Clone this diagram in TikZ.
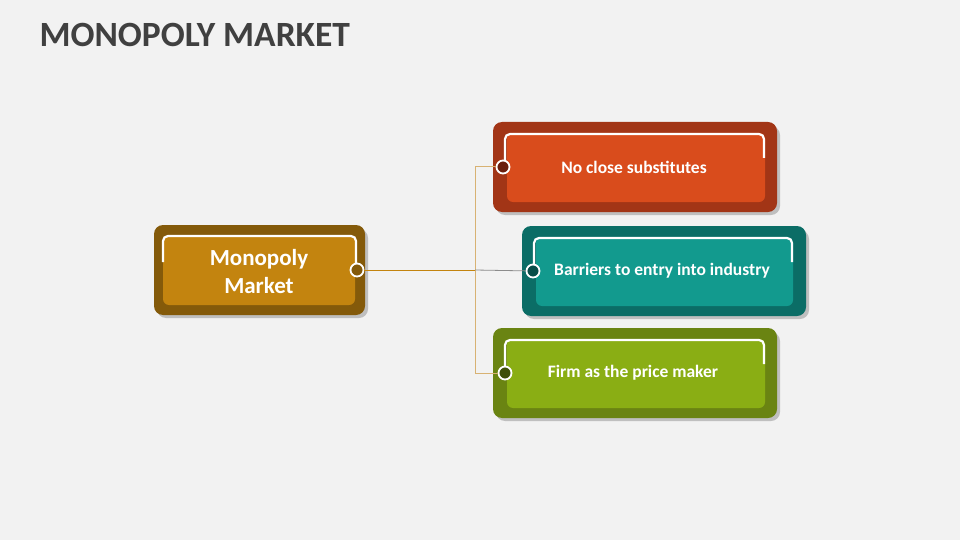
\documentclass[tikz,border=0pt]{standalone}
\usepackage{fontspec}
\setmainfont{Carlito}
\begin{document}
\begin{tikzpicture}[x=1pt,y=-1pt,
  outerbox/.style={rounded corners=9pt},
  innerbox/.style={rounded corners=6pt},
  wline/.style={white,line width=2.2pt,rounded corners=5pt},
  dot/.style={circle,draw=white,line width=1.8pt,minimum size=13pt,inner sep=0pt},
  conn/.style={line width=1pt,draw=tan1},
  lbl/.style={text=white,font=\bfseries,align=center}]
\definecolor{bg}{HTML}{F2F2F2}
\definecolor{tan1}{HTML}{D8B273}
\definecolor{gold}{HTML}{C3840F}
\definecolor{goldd}{HTML}{845A0A}
\definecolor{red1}{HTML}{D94C1C}
\definecolor{red2}{HTML}{A23516}
\definecolor{red3}{HTML}{6B1F0E}
\definecolor{tea1}{HTML}{129A8E}
\definecolor{tea2}{HTML}{0B6D66}
\definecolor{tea3}{HTML}{084E49}
\definecolor{gr1}{HTML}{8AAE14}
\definecolor{gr2}{HTML}{6A8412}
\definecolor{gr3}{HTML}{3F500A}
\fill[bg] (0,0) rectangle (960,540);
\useasboundingbox (0,0) rectangle (960,540);
\node[anchor=west,font=\bfseries\fontsize{35.5}{40}\selectfont,text=black!75] (title) at (36,35) {MONOPOLY MARKET};
% left box
\fill[black!25,outerbox] (157,229) rectangle (368,318);
\fill[goldd,outerbox] (154,225) rectangle (365,315);
\fill[gold,innerbox] (163,235) rectangle (355,305);
\draw[wline] (163,262) -- (163,236) -- (356,236) -- (356,264);
\node[dot,fill=goldd] (m) at (357,270) {};
\node[lbl,font=\bfseries\fontsize{23}{28}\selectfont] (mt) at (259,272) {Monopoly\\Market};
% box 1
\fill[black!25,outerbox] (496,126) rectangle (780,215);
\fill[red2,outerbox] (493,122) rectangle (777,212);
\fill[red1,innerbox] (507,133) rectangle (765,202);
\draw[wline] (505,161) -- (505,134) -- (764,134) -- (764,158);
\node[dot,fill=red3] (a) at (503,167) {};
\node[lbl,font=\bfseries\fontsize{17.5}{20}\selectfont] (at) at (634,167) {No close substitutes};
% box 2
\fill[black!25,outerbox] (525,230) rectangle (809,319);
\fill[tea2,outerbox] (522,226) rectangle (806,316);
\fill[tea1,innerbox] (536,237) rectangle (793,306);
\draw[wline] (534,265) -- (534,238) -- (792,238) -- (792,262);
\node[dot,fill=tea3] (b) at (533,271) {};
\node[lbl,font=\bfseries\fontsize{17.5}{20}\selectfont] (bt) at (662,271) {Barriers to entry into industry};
% box 3
\fill[black!25,outerbox] (496,332) rectangle (780,421);
\fill[gr2,outerbox] (493,328) rectangle (777,418);
\fill[gr1,innerbox] (507,339) rectangle (765,408);
\draw[wline] (505,367) -- (505,340) -- (764,340) -- (764,364);
\node[dot,fill=gr3] (c) at (505,373) {};
\node[lbl,font=\bfseries\fontsize{17.5}{20}\selectfont] (ct) at (633,373) {Firm as the price maker};
% connectors
\coordinate (j1) at (475,167);
\coordinate (j3) at (475,373);
\draw[conn] (a) -- (j1) -- (j3) -- (c);
\draw[line width=1pt,draw=gold] (m) -- (475,270);
\draw[line width=0.8pt,draw=black!45] (475,270) -- (b);
\end{tikzpicture}
\end{document}
